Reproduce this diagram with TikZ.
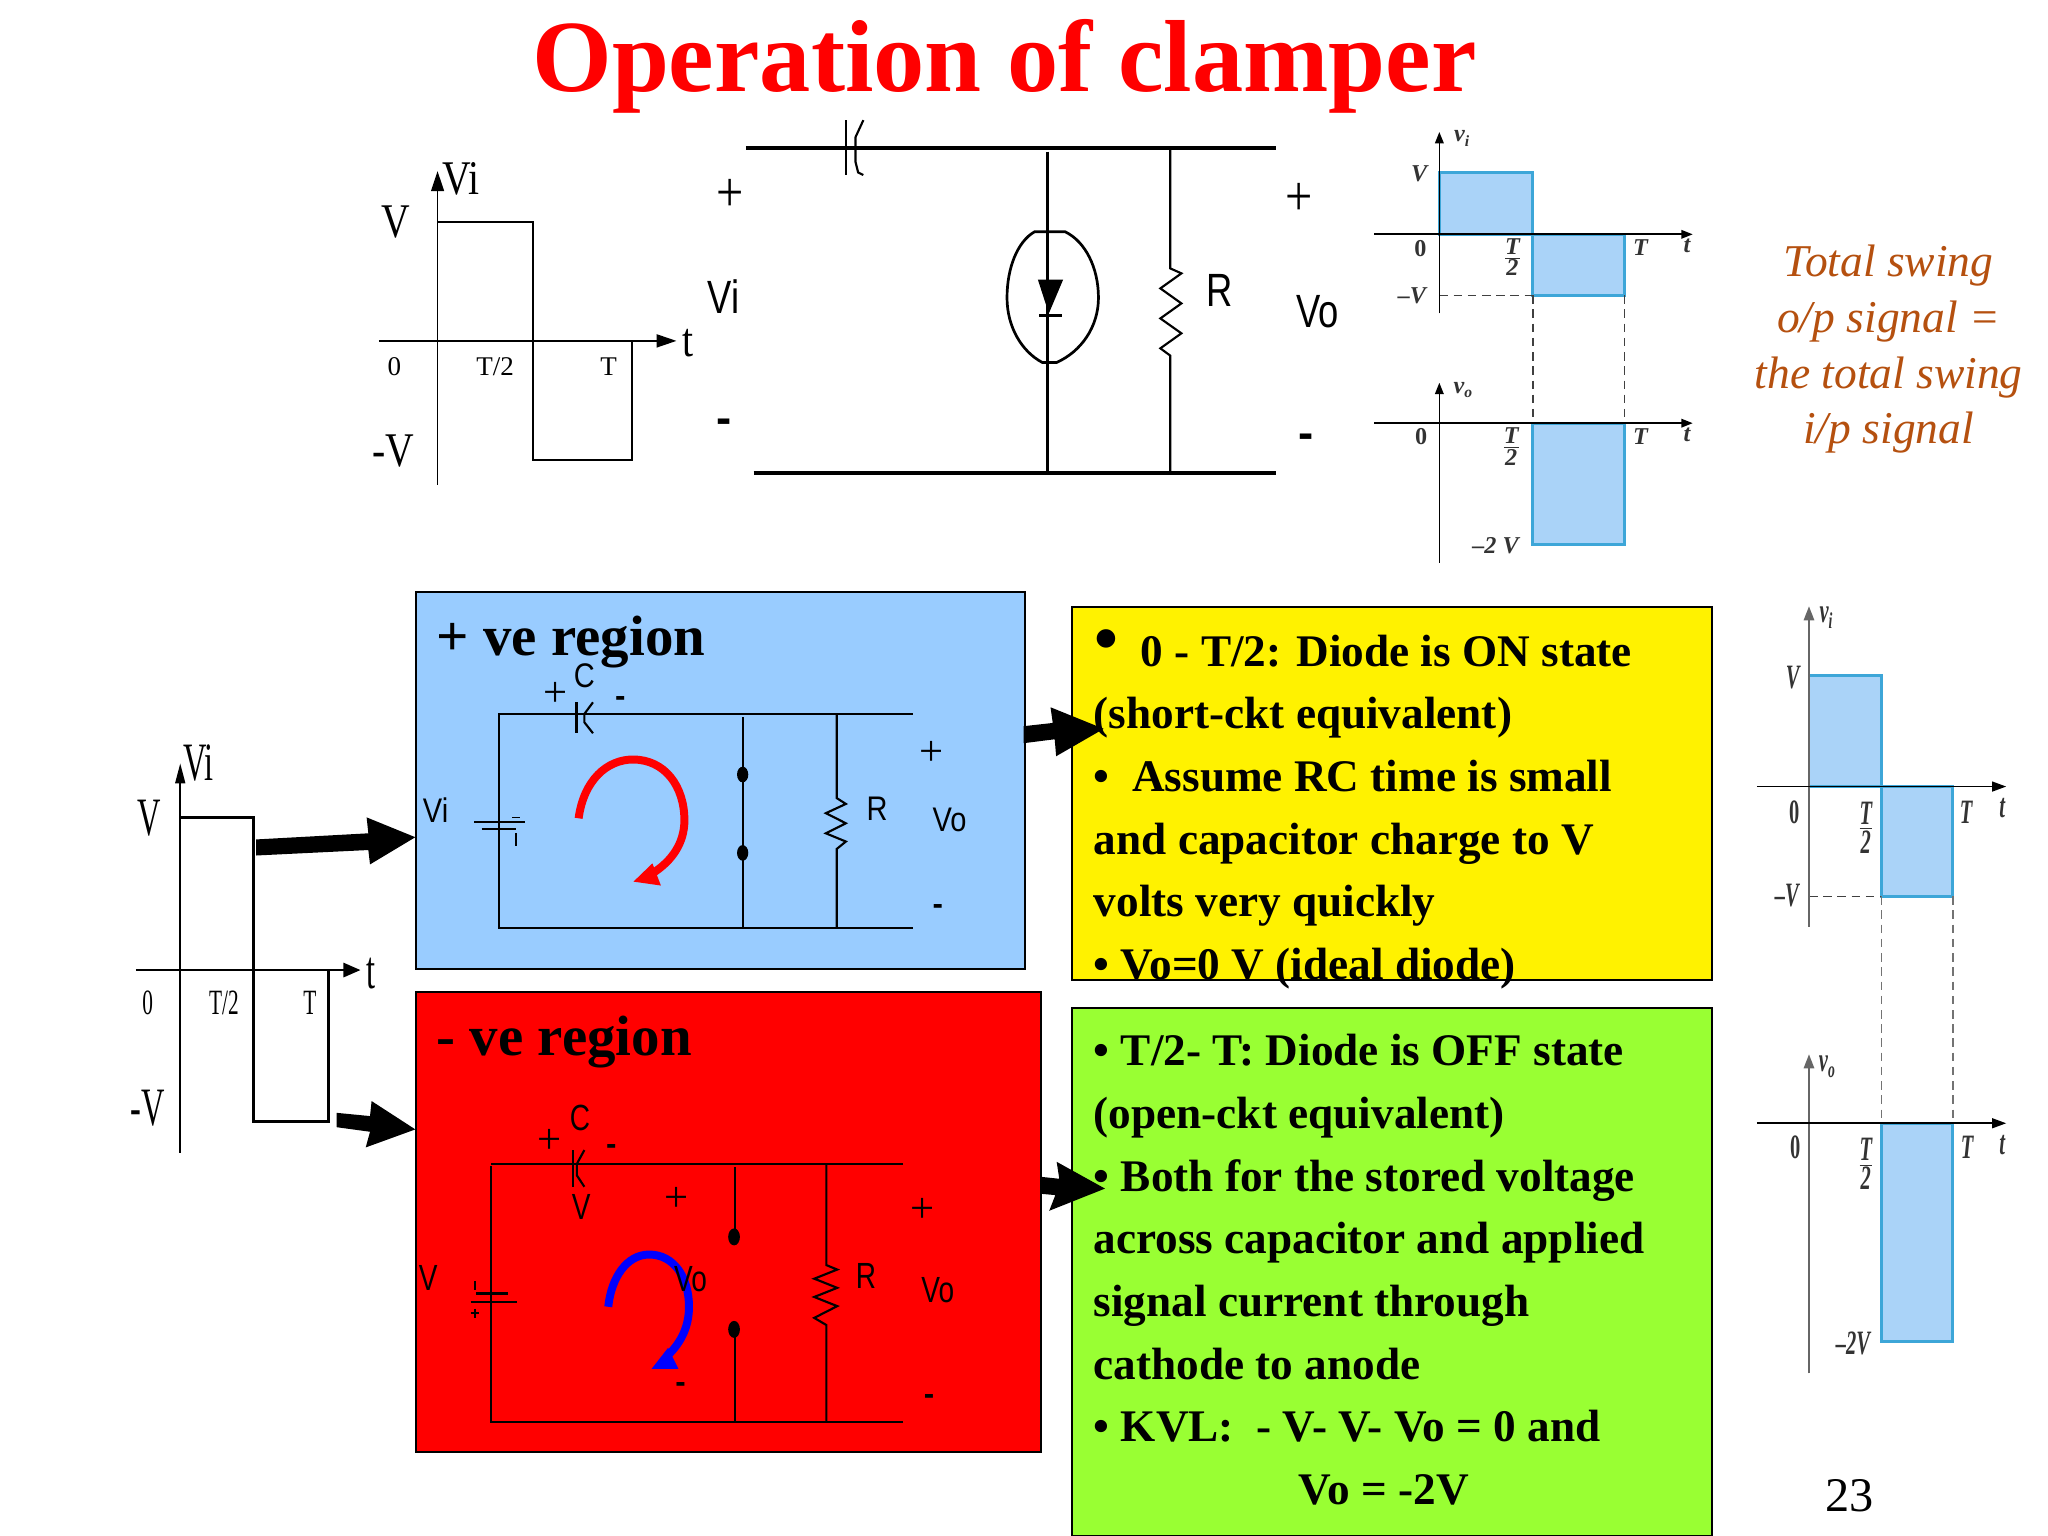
\documentclass[tikz,border=0pt]{standalone}
\usepackage{graphicx}
\usepackage{fontspec}
\setmainfont{Liberation Serif}
\newfontfamily\sansf{Liberation Sans}
\usetikzlibrary{arrows.meta}
\definecolor{boxblue}{HTML}{99CCFF}
\definecolor{boxgreen}{HTML}{99FF33}
\definecolor{wavefill}{HTML}{AAD3F8}
\definecolor{waveedge}{HTML}{3DA6D8}
\definecolor{notecol}{HTML}{B5500F}
\newcommand\sq[2]{\scalebox{#1}[1]{#2}}
\newcommand\fs[1]{\fontsize{#1}{#1}\selectfont}
\newcommand\tovertwo[1]{$\textstyle{\hbox{\itshape T}\over\hbox{2}}$}
\tikzset{
  x=0.45918pt,y=-0.45918pt,
  lbl/.style={inner sep=0pt,outer sep=0pt,anchor=center,text=black},
  slidetext/.style={inner sep=0pt,anchor=base west,font=\fs{15.9}\bfseries},
  regiontitle/.style={inner sep=0pt,anchor=base west,font=\fs{20}\bfseries},
  note/.style={lbl,text=notecol,font=\fs{16}\itshape},
  regionbox/.style={draw=black,line width=0.7pt},
  wave/.style={draw=black,line width=0.85pt},
  wire/.style={draw=black,line width=0.75pt},
  heavy/.style={draw=black,line width=1.4pt},
  axisline/.style={draw=black,line width=0.6pt},
  tipaxis/.style={axisline,-{Stealth[length=7pt,width=4.5pt,inset=0pt]}},
  gfill/.style={fill=wavefill,draw=waveedge,line width=1pt},
  gdash/.style={draw=black!75,line width=0.45pt,dash pattern=on 3pt off 2pt},
  blockarrow/.style={fill=black,draw=none},
  plusl/.style={lbl,font=\fs{20}},
  plusm/.style={lbl,font=\fs{15}},
  minusl/.style={lbl,font=\sansf\fs{16}\bfseries},
  minusm/.style={lbl,font=\sansf\fs{11}\bfseries},
  sanslarge/.style={lbl,font=\sansf\fs{16.4}},
  sansblue/.style={lbl,font=\sansf\fs{12}},
  sansred/.style={lbl,font=\sansf\fs{12.8}},
  wlarge/.style={lbl,font=\fs{17}},
  wsmall/.style={lbl,font=\fs{9.5}},
  bwlarge/.style={lbl,font=\fs{19}},
  bwsmall/.style={lbl,font=\fs{12.5}},
  gtop/.style={lbl,text=black!80,font=\fs{8.5}\bfseries\itshape},
  gbot/.style={lbl,text=black!80,font=\fs{12}\bfseries\itshape},
}
\begin{document}
\begin{tikzpicture}
\useasboundingbox[fill=white] (0,0) rectangle (1568,1176);

% title
\node[lbl,text=red,font=\fs{36}\bfseries,anchor=base] (title) at (769,70) {Operation of clamper};

% ---------- top left waveform
\draw[tipaxis] (335,371) -- (335,131);
\draw[tipaxis,line width=.8pt] (290,261) -- (518,261);
\draw[wave] (335,170) -- (408,170) -- (408,352) -- (484,352) -- (484,261);
\node[wlarge] (tvi) at (353,137) {\sq{.82}{Vi}};
\node[wlarge] (tv) at (303,170) {\sq{.82}{V}};
\node[wsmall] (t0) at (302,281) {0};
\node[wsmall] (tt2) at (379,281) {T/2};
\node[wsmall] (tT) at (466,281) {T};
\node[wlarge] (tmv) at (301,345) {\sq{.82}{-V}};
\node[wlarge] (tt) at (527,263) {\sq{.82}{t}};

% ---------- top circuit
\draw[heavy] (571,113) -- (977,113);
\draw[heavy] (577,362.5) -- (977,362.5);
\draw[wire] (647.5,92) -- (647.5,134);
\draw[wire] (661,92) -- (655,105) -- (655,124) -- (657,132) -- (661,134);
\draw[wire] (802,116) -- (802,362);
\draw[wire] (896,113) -- (896,205.5) -- (904.5,209.3) -- (888.4,220.8) -- (904.5,232.3) -- (888.4,243.8) -- (904.5,255.2) -- (888.4,266.7) -- (896,272.3) -- (896,362);
\draw[wire,line width=.95pt] (792,177.5) .. controls (779,185) and (771,205) .. (771,228) .. controls (771,250) and (782,269) .. (798,277.5) -- (809,277.5) .. controls (828,269) and (841,250) .. (841,228) .. controls (841,205) and (831,185) .. (815.6,177.5) -- cycle;
\fill[black] (794.6,214) -- (814,214) -- (803,240) -- cycle;
\draw[heavy,line width=1.2pt] (795.6,241.5) -- (813,241.5);
\node[plusl] (tp1) at (559,150) {\sq{.85}{+}};
\node[sanslarge] (tcvi) at (554,227) {\sq{.78}{Vi}};
\node[minusl] (tm1) at (554,326) {-};
\node[plusl] (tp2) at (995,153) {\sq{.85}{+}};
\node[sanslarge] (tcvo) at (1009,239) {\sq{.78}{Vo}};
\node[minusl] (tm2) at (1000,338) {-};
\node[sanslarge] (tcr) at (934,222) {\sq{.78}{R}};

% ---------- top right graphs
\draw[gfill] (1102,132) rectangle (1173.6,179.4);
\draw[gfill] (1173.6,179.4) rectangle (1244,226);
\draw[gfill] (1173.6,324) rectangle (1244,417);
\draw[gdash] (1102,226) -- (1173.6,226);
\draw[gdash] (1173.6,226) -- (1173.6,324);
\draw[gdash] (1244,226) -- (1244,324);
\draw[axisline,-{Stealth[length=4pt,width=3pt,inset=0pt]}] (1102,240) -- (1102,101);
\draw[axisline,-{Stealth[length=4pt,width=3pt,inset=0pt]}] (1052,179.4) -- (1296,179.4);
\draw[axisline,-{Stealth[length=4pt,width=3pt,inset=0pt]}] (1102,431) -- (1102,293);
\draw[axisline,-{Stealth[length=4pt,width=3pt,inset=0pt]}] (1052,324) -- (1296,324);
\node[gtop] (gvi) at (1119,106) {v\raisebox{-1.5pt}{\fs{5.5}i}};
\node[gtop] (gv) at (1086.5,133) {V};
\node[gtop] (g0) at (1087.5,190) {\upshape 0};
\node[gtop] (gt2) at (1158,197) {\tovertwo{}};
\node[gtop] (gT) at (1256,189.6) {T};
\node[gtop] (gt) at (1291.5,188) {t};
\node[gtop] (gmv) at (1081,226.6) {--V};
\node[gtop] (gvo) at (1120,298.6) {v\raisebox{-1.5pt}{\fs{5.5}o}};
\node[gtop] (g0b) at (1088,334) {\upshape 0};
\node[gtop] (gt2b) at (1157,342) {\tovertwo{}};
\node[gtop] (gTb) at (1256,334.6) {T};
\node[gtop] (gtb) at (1291.5,333) {t};
\node[gtop] (gm2v) at (1145,418) {--2 V};

% note
\node[note] (n1) at (1446,203) {Total swing};
\node[note] (n2) at (1446,246) {o/p signal =};
\node[note] (n3) at (1446,289) {the total swing};
\node[note] (n4) at (1446,331) {i/p signal};

% ---------- region boxes
\draw[regionbox,fill=boxblue] (318.6,453) rectangle (784.6,742);
\draw[regionbox,fill=red] (318.6,759.3) rectangle (796.7,1111.5);
\draw[regionbox,fill=yellow] (820.5,465) rectangle (1311,750);
\draw[regionbox,fill=boxgreen] (820.5,771.5) rectangle (1311,1176);

\node[regiontitle] (bt) at (334,501.5) {+ ve region};
\node[regiontitle] (rt) at (334,808) {- ve region};

% ---------- blue circuit
\draw[wire] (698.7,546.6) -- (382,546.6) -- (382,710.4) -- (698.7,710.4);
\draw[wire] (363,629.5) -- (402,629.5);
\draw[wire] (368.7,635) -- (395,635);
\draw[wire,line width=.6pt] (392,626) -- (398,626);
\draw[wire,line width=.6pt] (395,638) -- (395,648);
\draw[wire] (441.4,537.7) -- (441.4,561.4);
\draw[wire] (454,537.7) -- (447.4,546.6) -- (447.4,553) -- (454,561.4);
\draw[wire] (568.6,549) -- (568.6,710.4);
\fill[black] (568.6,593) ellipse (4.3 and 6);
\fill[black] (568.6,653) ellipse (4.3 and 6);
\draw[wire] (640.6,546.6) -- (640.6,611) -- (647.6,615.5) -- (632.3,622.6) -- (647.6,630.3) -- (632.3,638) -- (647.6,644.3) -- (640.6,650) -- (640.6,710.4);
\node[sansblue] (bvi) at (333.5,620) {\sq{.85}{Vi}};
\node[sansblue] (bc) at (447.4,517.5) {\sq{.85}{C}};
\node[plusm] (bp1) at (425,532) {+};
\node[minusm] (bm1) at (475,537) {-};
\node[sansblue] (br) at (671.5,619) {\sq{.85}{R}};
\node[plusm] (bp2) at (713.3,576.5) {+};
\node[sansblue] (bvo) at (727,627.7) {\sq{.85}{Vo}};
\node[minusm] (bm2) at (718,696) {-};
\draw[red,line width=2.8pt] (443,626.5) .. controls (447,597) and (465,581.5) .. (484.6,581.5) .. controls (509,581.5) and (524,602) .. (524,628) .. controls (524,645) and (515,659) .. (499,669);
\fill[red] (499.5,661) -- (506,678) -- (485,675) -- cycle;

% ---------- red circuit
\draw[wire] (691.4,891) -- (375.7,891);
\draw[wire] (375.7,893) -- (375.7,1088.8) -- (691.4,1088.8);
\draw[wire] (364.4,990.3) -- (388.6,990.3);
\draw[wire] (360.4,996.7) -- (396,996.7);
\draw[wire,line width=.6pt] (363.4,981) -- (363.4,988);
\draw[wire,line width=.6pt] (360.4,1005) -- (366.4,1005);
\draw[wire,line width=.6pt] (363.4,1002) -- (363.4,1009);
\draw[wire] (438.4,880.5) -- (438.4,908.6);
\draw[wire] (447.4,880.5) -- (441.7,891) -- (441.7,900) -- (447.4,908.6);
\draw[wire] (562.6,893.8) -- (562.6,947);
\draw[wire] (562.6,1017.8) -- (562.6,1088.8);
\fill[black] (562,947) ellipse (4.5 and 6.5);
\fill[black] (562,1017.8) ellipse (4.5 and 6.5);
\draw[wire] (632.7,891) -- (632.7,968.6) -- (641,972) -- (623.4,979) -- (641,986) -- (623.4,993) -- (641,1000) -- (623.4,1009) -- (632.7,1014.5) -- (632.7,1088.8);
\node[sansred] (rvl) at (327.9,978.8) {\sq{.77}{V}};
\node[sansred] (rc) at (444,855.8) {\sq{.77}{C}};
\node[plusm] (rp1) at (420.8,874) {+};
\node[minusm] (rm1) at (468,880) {-};
\node[sansred] (rcv) at (445,924) {\sq{.77}{V}};
\node[plusm] (rp2) at (517.8,918) {+};
\node[minusm] (rm2) at (521,1062.5) {-};
\node[sansred] (rr) at (663,977) {\sq{.77}{R}};
\node[plusm] (rp3) at (706.4,927) {+};
\node[sansred] (rvo2) at (718,987.7) {\sq{.77}{Vo}};
\node[minusm] (rm3) at (711.3,1071.5) {-};
\draw[blue,line width=2.8pt] (465.7,1000.5) .. controls (468,978) and (480,960.5) .. (497,960.5) .. controls (516,960.5) and (527.5,978) .. (527.5,1000.5) .. controls (527.5,1015) and (522,1027) .. (512,1037);
\fill[blue] (511.5,1031.9) -- (519.4,1048) -- (498.9,1048) -- cycle;
\node[sansred] (rvo1) at (528.7,979.6) {\sq{.77}{Vo}};

% ---------- yellow text
\node[lbl,font=\fs{24}\bfseries] (ybul) at (847,494) {•};
\node[slidetext] (y1) at (873,510) {0 - T/2: Diode is ON state};
\node[slidetext] (y2) at (837,558) {(short-ckt equivalent)};
\node[slidetext] (y3) at (837,606) {•\ \ Assume RC time is small};
\node[slidetext] (y4) at (837,654) {and capacitor charge to V};
\node[slidetext] (y5) at (837,702) {volts very quickly};
\node[slidetext] (y6) at (837,750) {• Vo=0 V (ideal diode)};

% ---------- green text
\node[slidetext] (g1) at (837,816) {• T/2- T: Diode is OFF state};
\node[slidetext] (g2) at (837,864) {(open-ckt equivalent)};
\node[slidetext] (g3) at (837,912) {• Both for the stored voltage};
\node[slidetext] (g4) at (837,960) {across capacitor and applied};
\node[slidetext] (g5) at (837,1008) {signal current through};
\node[slidetext] (g6) at (837,1056) {cathode to anode};
\node[slidetext] (g7) at (837,1104) {• KVL:\ \ - V- V- Vo = 0 and};
\node[slidetext] (g8) at (994,1152) {Vo = -2V};

% ---------- lower right graphs
\draw[gfill] (1385,517.4) rectangle (1440.5,602.2);
\draw[gfill] (1440.5,602.2) rectangle (1495,686.2);
\draw[gfill] (1440.5,860) rectangle (1495,1027.3);
\draw[gdash] (1385,686.2) -- (1440.5,686.2);
\draw[gdash,draw=black!55,line width=.6pt] (1440.5,686.2) -- (1440.5,860);
\draw[gdash,draw=black!55,line width=.6pt] (1495,686.2) -- (1495,860);
\draw[draw=black!60,line width=1pt,-{Stealth[length=5pt,width=3.5pt,inset=0pt]}] (1385,709.7) -- (1385,464);
\draw[axisline,-{Stealth[length=5pt,width=3.5pt,inset=0pt]}] (1345,602.2) -- (1536,602.2);
\draw[draw=black!60,line width=1pt,-{Stealth[length=5pt,width=3.5pt,inset=0pt]}] (1385,1051.5) -- (1385,807);
\draw[axisline,-{Stealth[length=5pt,width=3.5pt,inset=0pt]}] (1345,860) -- (1536,860);
\node[gbot] (hvi) at (1398,473) {\sq{.6}{v\raisebox{-2pt}{\fs{8}i}}};
\node[gbot] (hv) at (1372.6,519) {\sq{.6}{V}};
\node[gbot] (h0) at (1373.7,621.8) {\sq{.6}{\upshape 0}};
\node[gbot] (ht2) at (1428.5,633.5) {\sq{.6}{\tovertwo{}}};
\node[gbot] (hT) at (1505.3,621.8) {\sq{.6}{T}};
\node[gbot] (ht) at (1533,619) {\sq{.6}{t}};
\node[gbot] (hmv) at (1368,686) {\sq{.6}{--V}};
\node[gbot] (hvo) at (1398.7,817) {\sq{.6}{v\raisebox{-2pt}{\fs{8}o}}};
\node[gbot] (h0b) at (1374.4,878.4) {\sq{.6}{\upshape 0}};
\node[gbot] (ht2b) at (1428.5,891.3) {\sq{.6}{\tovertwo{}}};
\node[gbot] (hTb) at (1506,878.4) {\sq{.6}{T}};
\node[gbot] (htb) at (1533,876.5) {\sq{.6}{t}};
\node[gbot] (hm2v) at (1418.6,1028.8) {\sq{.6}{--2V}};

% ---------- lower left waveform
\draw[axisline,-{Stealth[length=7pt,width=3.5pt,inset=0pt]}] (138,882.6) -- (138,584.5);
\draw[axisline,line width=.8pt,-{Stealth[length=6pt,width=5pt,inset=0pt]}] (104,742.7) -- (276,742.7);
\draw[wave] (138,626) -- (194,626) -- (194,858.8) -- (251.4,858.8) -- (251.4,742.7);
\node[bwlarge] (lvi) at (151.8,584.5) {\sq{.6}{Vi}};
\node[bwlarge] (lv) at (114.3,626.6) {\sq{.6}{V}};
\node[bwsmall] (l0) at (113,767.7) {\sq{.6}{0}};
\node[bwsmall] (lt2) at (171.5,767.7) {\sq{.6}{T/2}};
\node[bwsmall] (lT) at (237.3,767.7) {\sq{.6}{T}};
\node[bwlarge] (lt) at (283.8,745) {\sq{.6}{t}};
\node[bwlarge] (lmv) at (113,848.6) {\sq{.6}{-V}};

% ---------- block arrows
\fill[blockarrow] (196,642.7) -- (282,638) -- (280.7,625.8) -- (318,641) -- (283.3,661.8) -- (282,650.8) -- (196,655) -- cycle;
\fill[blockarrow] (257.7,852) -- (283.3,854.5) -- (284.5,843) -- (318,864.7) -- (280,878.5) -- (283.3,866.5) -- (257.7,863) -- cycle;
\fill[blockarrow] (783.7,556) -- (806,553.5) -- (804.3,541.5) -- (845,558) -- (808.6,579) -- (807.5,566) -- (783.7,569) -- cycle;
\fill[blockarrow] (797,901) -- (811,902.5) -- (809,889.5) -- (846,910) -- (803.3,927) -- (808,915) -- (797,914) -- cycle;

% page number
\node[lbl,font=\fs{17}] (pg) at (1416,1145) {23};
\end{tikzpicture}
\end{document}
